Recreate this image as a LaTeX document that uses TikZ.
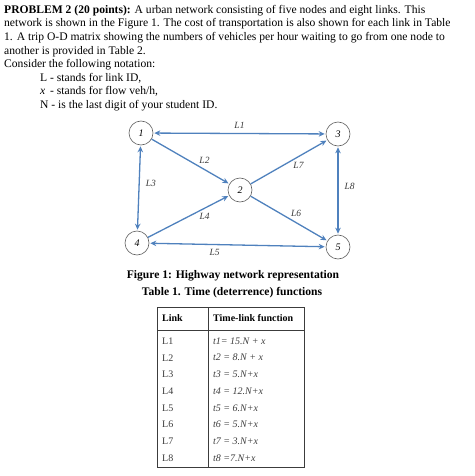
\documentclass[tikz,border=0pt]{standalone}
\usepackage{fontspec}
\setmainfont{Liberation Serif}
\usetikzlibrary{positioning, arrows.meta}
\definecolor{linkblue}{RGB}{79,129,189}
\definecolor{ringgrey}{RGB}{95,95,95}
\definecolor{inkgrey}{RGB}{60,60,60}

\begin{document}
\begin{tikzpicture}[
    x=1pt, y=-1pt,
    every node/.style={inner sep=0pt},
    town/.style={draw=ringgrey, line width=0.6pt, circle, minimum size=24pt, font=\itshape\fontsize{10}{11}\selectfont},
    link/.style={draw=linkblue, line width=1.3pt, -{Stealth[length=6pt,width=5.5pt]}, shorten >=1pt},
    twoway/.style={link, {Stealth[length=6pt,width=5.5pt]}-{Stealth[length=6pt,width=5.5pt]}, shorten <=1pt},
    lbl/.style={font=\itshape\fontsize{9.5}{10}\selectfont, text=inkgrey},
    captxt/.style={font=\bfseries\fontsize{11.6}{13}\selectfont},
    cell/.style={anchor=west, font=\fontsize{10}{12}\selectfont, text=inkgrey},
    rule/.style={draw=inkgrey, line width=0.8pt},
]
\useasboundingbox (0,0) rectangle (474,476);

% ------------------------------------------------------------- problem ---
\node[anchor=north west, align=left, font=\fontsize{11.6}{13.6}\selectfont] (text) at (4,5)
  {\textbf{PROBLEM 2 (20 points):} A urban network consisting of five nodes and eight links. This\\
   network is shown in the Figure 1. The cost of transportation is also shown for each link in Table\\
   1. A trip O-D matrix showing the numbers of vehicles per hour waiting to go from one node to\\
   another is provided in Table 2.\\
   Consider the following notation:\\
   \hspace*{36pt}L - stands for link ID,\\
   \hspace*{36pt}\textit{x}\, - stands for flow veh/h,\\
   \hspace*{36pt}N - is the last digit of your student ID.};

% ------------------------------------------------------------- network ---
\node[town] (n1) at (141,133) {1};
\node[town] (n3) at (338,134) {3};
\node[town] (n2) at (240,190) {2};
\node[town] (n4) at (137,243) {4};
\node[town] (n5) at (338,247) {5};

\draw[twoway] (n1) -- node[lbl, above=4pt] {L1} (n3);
\draw[link] (n1) -- node[lbl, pos=0.68, above=5pt] {L2} (n2);
\draw[twoway] (n1) -- node[lbl, pos=0.45, right=6pt] {L3} (n4);
\draw[link] (n4) -- node[lbl, pos=0.7, below=4pt] {L4} (n2);
\draw[twoway] (n4) -- node[lbl, pos=0.37, below=4pt] {L5} (n5);
\draw[link] (n2) -- node[lbl, pos=0.52, above right=2pt and 0pt] {L6} (n5);
\draw[link] (n2) -- node[lbl, pos=0.55, below right=2pt and 0pt] {L7} (n3);
\draw[twoway] (n3) -- node[lbl, pos=0.45, right=6pt] {L8} (n5);

\node[captxt, anchor=base] (fig) at (233,278) {Figure 1: Highway network representation};
\node[captxt, anchor=base] (tab) at (232,295) {Table 1. Time (deterrence) functions};

% --------------------------------------------------------------- table ---
\draw[rule] (157,307) rectangle (304,467);
\draw[rule] (208,307) -- (208,467);
\draw[rule] (157,330) -- (304,330);
\node[cell, font=\bfseries\fontsize{10}{12}\selectfont, text=black] (hlink) at (162,318) {Link};
\node[cell, font=\bfseries\fontsize{10}{12}\selectfont, text=black] (hfun) at (213,318) {Time-link function};
\foreach \row/\fun [count=\i from 0] in {1/t1= 15.N + x, 2/t2 = 8.N + x, 3/t3 = 5.N+x, 4/t4 = 12.N+x,
    5/t5 = 6.N+x, 6/t6 = 5.N+x, 7/t7 = 3.N+x, 8/t8 =7.N+x} {
  \node[cell] (id\row) at (162,341+16.7*\i) {L\row};
  \node[cell, font=\itshape\fontsize{10}{12}\selectfont] (fn\row) at (213,341+16.7*\i) {\fun};
}

\end{tikzpicture}
\end{document}
